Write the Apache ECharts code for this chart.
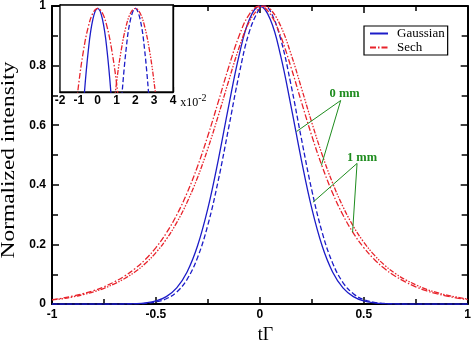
<!DOCTYPE html>
<html><head><meta charset="utf-8">
<script src="https://cdn.jsdelivr.net/npm/echarts@6/dist/echarts.min.js"></script>
<style>html,body{margin:0;padding:0;background:#fff}#c{width:474px;height:349px}</style>
</head><body><div id="c"></div>
<script>
// main plot: time grid (tΓ)
const tGrid = [-1,-0.95,-0.9,-0.85,-0.8,-0.75,-0.7,-0.65,-0.6,-0.55,-0.5,-0.45,-0.4,-0.35,-0.3,-0.25,-0.2,-0.15,-0.1,-0.05,0,0.05,0.1,0.15,0.2,0.25,0.3,0.35,0.4,0.45,0.5,0.55,0.6,0.65,0.7,0.75,0.8,0.85,0.9,0.95,1];
const tGrid1 = [-1,-0.95,-0.9,-0.85,-0.8,-0.75,-0.7,-0.65,-0.6,-0.55,-0.5,-0.45,-0.4,-0.35,-0.3,-0.25,-0.2,-0.15,-0.1,-0.05,0,0.02,0.05,0.1,0.15,0.2,0.25,0.3,0.35,0.4,0.45,0.5,0.55,0.6,0.65,0.7,0.75,0.8,0.85,0.9,0.95,1];
// Gaussian, 0 mm
const gauss0 = [0,0,0,0,0,0,0.0001,0.0005,0.0014,0.0041,0.0106,0.0252,0.0545,0.1078,0.1947,0.3210,0.4832,0.6642,0.8338,0.9556,1,0.9556,0.8338,0.6642,0.4832,0.3210,0.1947,0.1078,0.0545,0.0252,0.0106,0.0041,0.0014,0.0005,0.0001,0,0,0,0,0,0];
// Gaussian, 1 mm
const gauss1 = [0,0,0,0,0,0,0.0001,0.0003,0.0009,0.0027,0.0073,0.0180,0.0405,0.0830,0.1554,0.2657,0.4148,0.5913,0.7697,0.9148,0.9928,1,0.9838,0.8901,0.7354,0.5549,0.3822,0.2404,0.1381,0.0724,0.0347,0.0152,0.0061,0.0022,0.0007,0.0002,0.0001,0,0,0,0,0];
// Sech, 0 mm
const sech0 = [0.015,0.020,0.027,0.035,0.045,0.058,0.0745,0.0943,0.1192,0.1504,0.1895,0.2383,0.2988,0.3728,0.4614,0.5645,0.6783,0.7947,0.8990,0.9731,1,0.9731,0.8990,0.7947,0.6783,0.5645,0.4614,0.3728,0.2988,0.2383,0.1895,0.1504,0.1192,0.0943,0.0745,0.058,0.045,0.035,0.027,0.020,0.015];
// Sech, 1 mm
const sech1 = [0.014,0.018,0.024,0.032,0.041,0.053,0.068,0.0859,0.1085,0.1370,0.1728,0.2175,0.2731,0.3415,0.4242,0.5217,0.6319,0.7486,0.8599,0.9483,0.9956,1,0.9902,0.9334,0.8389,0.7252,0.6091,0.5010,0.4065,0.3267,0.2610,0.2078,0.1650,0.1308,0.1036,0.0820,0.065,0.050,0.039,0.030,0.023,0.017];

// inset (t in units of 1e-2)
const insetTG0 = [-0.75,-0.5,-0.25,0,0.25,0.5,0.75];
const insetG0  = [0.998853,0.99949,0.999873,1,0.999873,0.99949,0.998853];
const insetTG1 = [1.25,1.5,1.75,2,2.25,2.5,2.75];
const insetG1  = [0.998853,0.99949,0.999873,1,0.999873,0.99949,0.998853];
const insetTS0 = [-1.25,-1,-0.75,-0.5,-0.25,0,0.25,0.5,0.75,1,1.25];
const insetS0  = [0.998609,0.99911,0.999499,0.999778,0.999944,1,0.999944,0.999778,0.999499,0.99911,0.998609];
const insetTS1 = [0.75,1,1.25,1.5,1.75,2,2.25,2.5,2.75,3,3.25];
const insetS1  = [0.998609,0.99911,0.999499,0.999778,0.999944,1,0.999944,0.999778,0.999499,0.99911,0.998609];

// annotations (data coordinates)
const annotLabels = ['0 mm','1 mm'];
const annotLabelPos = [[0.408,0.7046],[0.4916,0.4917]];
const annotApex = [[0.389,0.683],[0.4678,0.472]];
const annotEnds = [[[0.1766,0.579],[0.296,0.465]],[[0.2554,0.3416],[0.4463,0.241]]];

const BLUE = '#1c1cc8', RED = '#e8232b', GREEN = '#1e8c1e';
const pairs = (xs, ys) => xs.map((x, i) => [x, ys[i]]);
const lblFont = {fontFamily:'Liberation Sans', fontWeight:'bold', fontSize:12, color:'#000'};

const markLines = [];
annotApex.forEach((a, i) => annotEnds[i].forEach(e => markLines.push([{coord:a},{coord:e}])));

const chart = echarts.init(document.getElementById('c'), null, {renderer:'canvas'});
chart.setOption({
  animation:false,
  backgroundColor:'#fff',
  legend:{
    data:['Gaussian','Sech'], orient:'vertical', left:364, top:26,
    padding:[1,3,1,5], itemWidth:18, itemHeight:14, itemGap:1,
    borderColor:'#000', borderWidth:1.2, backgroundColor:'#fff',
    itemStyle:{color:'rgba(0,0,0,0)', borderWidth:0, opacity:0},
    textStyle:{fontFamily:'Liberation Serif', fontSize:13, color:'#000', padding:[0,0,0,4]}
  },
  grid:[
    {left:52, right:3, top:5, bottom:41},
    {left:60, top:5, width:113, height:87, show:true, backgroundColor:'#fff', borderColor:'#000', borderWidth:1.3, z:5}
  ],
  xAxis:[
    {type:'value', gridIndex:0, position:'bottom', min:-1, max:1, interval:0.5,
     axisLine:{onZero:false, lineStyle:{color:'#000', width:2}},
     axisTick:{inside:true, length:7, lineStyle:{width:1.5}},
     minorTick:{show:true, splitNumber:2, length:5, lineStyle:{color:'#000', width:1.5}},
     splitLine:{show:false},
     axisLabel:Object.assign({margin:5, showMinLabel:true, showMaxLabel:true}, lblFont),
     name:'tΓ', nameLocation:'middle', nameGap:21,
     nameTextStyle:{fontFamily:'Liberation Serif', fontSize:18, color:'#000', padding:[0,0,0,11]}},
    {type:'value', gridIndex:0, position:'top', min:-1, max:1, interval:0.5,
     axisLine:{onZero:false, lineStyle:{color:'#000', width:2}},
     axisTick:{inside:true, length:7, lineStyle:{width:1.5}},
     minorTick:{show:true, splitNumber:2, length:5, lineStyle:{color:'#000', width:1.5}},
     splitLine:{show:false}, axisLabel:{show:false}},
    {type:'value', gridIndex:1, position:'bottom', min:-2, max:4, interval:1,
     axisLine:{onZero:false, lineStyle:{color:'#000', width:1.3}},
     axisTick:{inside:true, length:5, lineStyle:{width:1.2}},
     minorTick:{show:true, splitNumber:2, length:4, lineStyle:{color:'#000', width:1.2}},
     splitLine:{show:false},
     axisLabel:Object.assign({margin:3, showMinLabel:true, showMaxLabel:true}, lblFont),
     name:'x10{s|-2}', nameLocation:'end', nameGap:-5,
     nameTextStyle:{fontFamily:'Liberation Serif', fontSize:12, color:'#000', verticalAlign:'top', padding:[1,0,0,0],
       rich:{s:{fontFamily:'Liberation Serif', fontSize:10, color:'#000', verticalAlign:'bottom', padding:[0,0,9,0]}}}},
    {type:'value', gridIndex:1, position:'top', min:-2, max:4, interval:1,
     axisLine:{onZero:false, lineStyle:{color:'#000', width:1.3}},
     axisTick:{inside:true, length:5, lineStyle:{width:1.2}},
     minorTick:{show:true, splitNumber:2, length:4, lineStyle:{color:'#000', width:1.2}},
     splitLine:{show:false}, axisLabel:{show:false}}
  ],
  yAxis:[
    {type:'value', gridIndex:0, position:'left', min:0, max:1, interval:0.2,
     axisLine:{show:true, onZero:false, lineStyle:{color:'#000', width:2}},
     axisTick:{show:true, inside:true, length:7, lineStyle:{width:1.5}},
     minorTick:{show:true, splitNumber:2, length:6, lineStyle:{color:'#000', width:1.5}},
     splitLine:{show:false},
     axisLabel:Object.assign({margin:6}, lblFont)},
    {type:'value', gridIndex:0, position:'right', min:0, max:1, interval:0.2,
     axisLine:{show:true, onZero:false, lineStyle:{color:'#000', width:2}},
     axisTick:{show:true, inside:true, length:7, lineStyle:{width:1.5}},
     minorTick:{show:true, splitNumber:2, length:6, lineStyle:{color:'#000', width:1.5}},
     splitLine:{show:false}, axisLabel:{show:false}},
    {type:'value', gridIndex:1, position:'left', min:0.999, max:1.00004,
     axisLine:{show:true, onZero:false, lineStyle:{color:'#000', width:1.3}},
     axisTick:{show:false}, splitLine:{show:false}, axisLabel:{show:false}},
    {type:'value', gridIndex:1, position:'right', min:0.999, max:1.00004,
     axisLine:{show:true, onZero:false, lineStyle:{color:'#000', width:1.3}},
     axisTick:{show:false}, splitLine:{show:false}, axisLabel:{show:false}}
  ],
  graphic:[{
    type:'text', x:9, y:160, rotation:Math.PI/2, scaleX:1.3, scaleY:1,
    style:{text:'Normalized intensity', fontFamily:'Liberation Serif', fontSize:18, fill:'#000',
           textAlign:'center', textVerticalAlign:'middle'}
  }],
  series:[
    {name:'Gaussian', type:'line', xAxisIndex:0, yAxisIndex:0, data:pairs(tGrid, gauss0),
     showSymbol:false, symbol:'none', smooth:0.4, lineStyle:{color:BLUE, width:1.3}, itemStyle:{color:BLUE},
     markLine:{silent:true, symbol:['none','none'], label:{show:false}, animation:false,
       lineStyle:{color:GREEN, width:1, type:'solid'}, data:markLines},
     markPoint:{silent:true, symbol:'rect', symbolSize:1, itemStyle:{color:'rgba(0,0,0,0)'}, animation:false,
       label:{show:true, position:'inside', formatter:'{b}', color:GREEN, fontFamily:'Liberation Serif', fontWeight:'bold', fontSize:12.5},
       data:annotLabels.map((n, i) => ({name:n, coord:annotLabelPos[i]}))}},
    {name:'Gaussian 1 mm', type:'line', xAxisIndex:0, yAxisIndex:0, data:pairs(tGrid1, gauss1),
     showSymbol:false, symbol:'none', smooth:0.4, lineStyle:{color:BLUE, width:1.3, type:[5,2.5]}, itemStyle:{color:BLUE}},
    {name:'Sech', type:'line', xAxisIndex:0, yAxisIndex:0, data:pairs(tGrid, sech0),
     showSymbol:false, symbol:'none', smooth:0.4, lineStyle:{color:RED, width:1.3, type:[6,2,1.5,2]}, itemStyle:{color:RED}},
    {name:'Sech 1 mm', type:'line', xAxisIndex:0, yAxisIndex:0, data:pairs(tGrid1, sech1),
     showSymbol:false, symbol:'none', smooth:0.4, lineStyle:{color:RED, width:1.3, type:[5,1.5,1.5,1.5,1.5,1.5]}, itemStyle:{color:RED}},
    {name:'inset G0', type:'line', xAxisIndex:2, yAxisIndex:2, data:pairs(insetTG0, insetG0), z:6,
     showSymbol:false, symbol:'none', smooth:0.4, lineStyle:{color:BLUE, width:1.3}},
    {name:'inset G1', type:'line', xAxisIndex:2, yAxisIndex:2, data:pairs(insetTG1, insetG1), z:6,
     showSymbol:false, symbol:'none', smooth:0.4, lineStyle:{color:BLUE, width:1.3, type:[5,2.5]}},
    {name:'inset S0', type:'line', xAxisIndex:2, yAxisIndex:2, data:pairs(insetTS0, insetS0), z:6,
     showSymbol:false, symbol:'none', smooth:0.4, lineStyle:{color:RED, width:1.3, type:[6,2,1.5,2]}},
    {name:'inset S1', type:'line', xAxisIndex:2, yAxisIndex:2, data:pairs(insetTS1, insetS1), z:6,
     showSymbol:false, symbol:'none', smooth:0.4, lineStyle:{color:RED, width:1.3, type:[5,1.5,1.5,1.5,1.5,1.5]}}
  ]
});
</script></body></html>
